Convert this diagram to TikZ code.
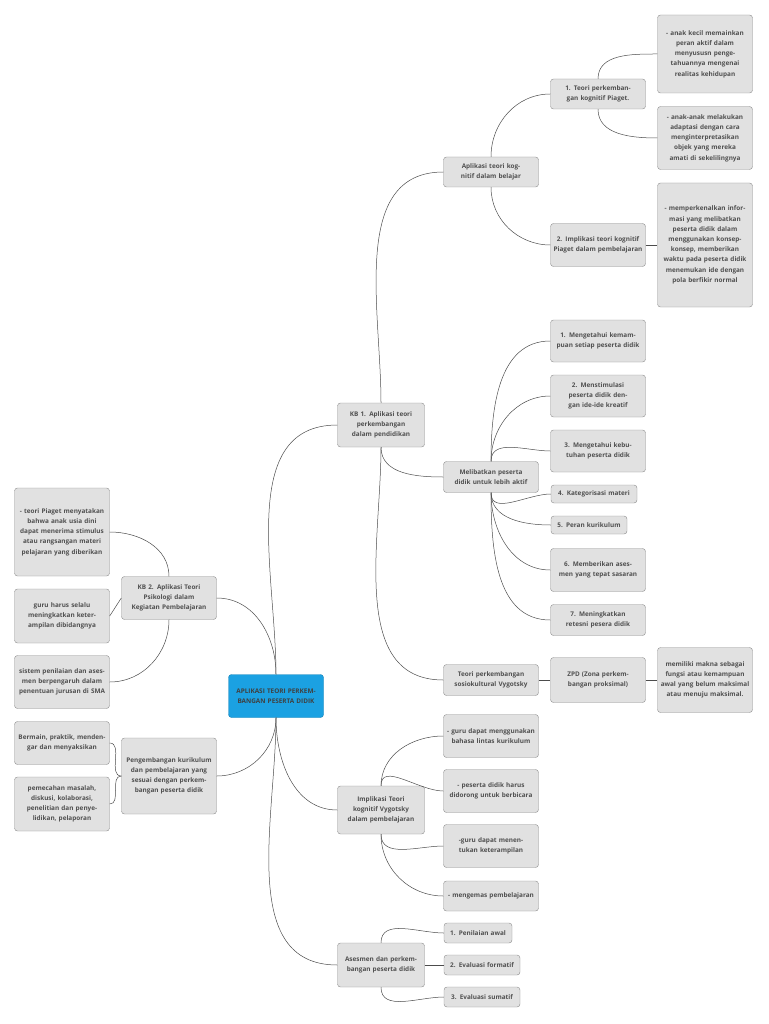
\documentclass[tikz,border=0pt]{standalone}
\usepackage{fontspec}
\setmainfont{Open Sans}
\definecolor{BoxClr}{HTML}{E1E1E1}
\definecolor{EdgeClr}{HTML}{8C8C8C}
\definecolor{TxtClr}{HTML}{505050}
\definecolor{RootClr}{HTML}{1BA1E2}

\begin{document}
\begin{tikzpicture}[x=1pt,y=-1pt,
  box/.style={draw=EdgeClr,fill=BoxClr,rounded corners=3pt,align=center,
    text=TxtClr,font=\fontsize{6.4}{10.2}\selectfont\bfseries,inner sep=2pt,
    text width=#1-6pt,minimum width=#1},
  box/.default=95pt,
  rootbox/.style={box,fill=RootClr,draw=RootClr!80!black,text=TxtClr!80!black,minimum height=43pt},
  link/.style={draw=black!70,line width=0.5pt}]
\useasboundingbox (0,0) rectangle (768,1024);

% center
\node[rootbox] (root) at (276,696) {APLIKASI TEORI PERKEMBANGAN PESERTA DIDIK};

% right side
\node[box=87pt,minimum height=44pt] (kb1) at (381,425) {KB 1. Aplikasi teori perkembangan dalam pendidikan};
\node[box,minimum height=30pt] (kog) at (491,172) {Aplikasi teori kognitif dalam belajar};
\node[box,minimum height=30pt] (piaget) at (598,94) {1. Teori perkembangan kognitif Piaget.};
\node[box,minimum height=78pt] (pa) at (705,54) {- anak kecil memainkan peran aktif dalam menyususn pengetahuannya mengenai realitas kehidupan};
\node[box,minimum height=63pt] (pb) at (705,138) {- anak-anak melakukan adaptasi dengan cara menginterpretasikan objek yang mereka amati di sekelilingnya};
\node[box,minimum height=43pt] (impl) at (598,245) {2. Implikasi teori kognitif Piaget dalam pembelajaran};
\node[box,minimum height=124pt] (ia) at (705,245) {- memperkenalkan informasi yang melibatkan peserta didik dalam menggunakan konsep-konsep, memberikan waktu pada peserta didik menemukan ide dengan pola berfikir normal};

\node[box,minimum height=31pt] (aktif) at (491,477) {Melibatkan peserta didik untuk lebih aktif};
\node[box,minimum height=42pt] (m1) at (598,341) {1. Mengetahui kemampuan setiap peserta didik};
\node[box,minimum height=42pt] (m2) at (598,396) {2. Menstimulasi peserta didik dengan ide-ide kreatif};
\node[box,minimum height=42pt] (m3) at (598,451) {3. Mengetahui kebutuhan peserta didik};
\node[box=86pt,minimum height=18pt] (m4) at (594,494) {4. Kategorisasi materi};
\node[box=76pt,minimum height=18pt] (m5) at (589,525) {5. Peran kurikulum};
\node[box,minimum height=43pt] (m6) at (598,570) {6. Memberikan asesmen yang tepat sasaran};
\node[box,minimum height=31pt] (m7) at (598,620) {7. Meningkatkan retesni pesera didik};

\node[box,minimum height=31pt] (vyg) at (491,680) {Teori perkembangan sosiokultural Vygotsky};
\node[box,minimum height=45pt] (zpd) at (598,680) {ZPD (Zona perkembangan proksimal)};
\node[box,minimum height=65pt] (za) at (705,680) {memiliki makna sebagai fungsi atau kemampuan awal yang belum maksimal atau menuju maksimal.};

\node[box=87pt,minimum height=48pt] (impv) at (381,810) {Implikasi Teori kognitif Vygotsky dalam pembelajaran};
\node[box,minimum height=43pt] (v1) at (491,736) {- guru dapat menggunakan bahasa lintas kurikulum};
\node[box,minimum height=43pt] (v2) at (491,791) {- peserta didik harus didorong untuk berbicara};
\node[box,minimum height=43pt] (v3) at (491,846) {-guru dapat menentukan keterampilan};
\node[box,minimum height=30pt] (v4) at (491,896) {- mengemas pembelajaran};

\node[box=87pt,minimum height=44pt] (ases) at (381,965) {Asesmen dan perkembangan peserta didik};
\node[box=68pt,minimum height=20pt] (a1) at (478,933) {1. Penilaian awal};
\node[box=76pt,minimum height=20pt] (a2) at (482,965) {2. Evaluasi formatif};
\node[box=76pt,minimum height=20pt] (a3) at (482,997) {3. Evaluasi sumatif};

% left side
\node[box,minimum height=43pt] (kb2) at (169,598) {KB 2. Aplikasi Teori Psikologi dalam Kegiatan Pembelajaran};
\node[box,minimum height=88pt] (la) at (62,532) {- teori Piaget menyatakan bahwa anak usia dini dapat menerima stimulus atau rangsangan materi pelajaran yang diberikan};
\node[box,minimum height=54pt] (lb) at (62,616) {guru harus selalu meningkatkan keterampilan dibidangnya};
\node[box,minimum height=53pt] (lc) at (62,682) {sistem penilaian dan asesmen berpengaruh dalam penentuan jurusan di SMA};
\node[box,minimum height=76pt] (kur) at (169,776) {Pengembangan kurikulum dan pembelajaran yang sesuai dengan perkembangan peserta didik};
\node[box,minimum height=43pt] (ld) at (62,743) {Bermain, praktik, mendengar dan menyaksikan};
\node[box,minimum height=54pt] (le) at (62,804) {pemecahan masalah, diskusi, kolaborasi, penelitian dan penyelidikan, pelaporan};

% connectors
\draw[link] (root.north) to[out=90,in=180] (kb1.west);
\draw[link] (root.north) to[out=90,in=0] (kb2.east);
\draw[link] (root.south) to[out=-90,in=0] (kur.east);
\draw[link] (root.south) to[out=-90,in=180] (impv.west);
\draw[link] (root.south) to[out=-90,in=180] (ases.west);

\draw[link] (kb1.north) to[out=90,in=180] (kog.west);
\draw[link] (kb1.south) to[out=-90,in=180] (aktif.west);
\draw[link] (kb1.south) to[out=-90,in=180] (vyg.west);

\draw[link] (kog.north) to[out=90,in=180] (piaget.west);
\draw[link] (kog.south) to[out=-90,in=180] (impl.west);
\draw[link] (piaget.north) to[out=90,in=180] (pa.west);
\draw[link] (piaget.south) to[out=-90,in=180] (pb.west);
\draw[link] (impl.east) -- (ia.west);

\foreach \m in {m1,m2,m3} \draw[link] (aktif.north) to[out=90,in=180] (\m.west);
\foreach \m in {m4,m5,m6,m7} \draw[link] (aktif.south) to[out=-90,in=180] (\m.west);

\draw[link] (vyg.east) -- (zpd.west);
\draw[link] (zpd.east) -- (za.west);

\foreach \m in {v1,v2} \draw[link] (impv.north) to[out=90,in=180] (\m.west);
\foreach \m in {v3,v4} \draw[link] (impv.south) to[out=-90,in=180] (\m.west);

\draw[link] (ases.north) to[out=90,in=180] (a1.west);
\draw[link] (ases.east) -- (a2.west);
\draw[link] (ases.south) to[out=-90,in=180] (a3.west);

\draw[link] (kb2.north) to[out=90,in=0] (la.east);
\draw[link] (kb2.west) -- (lb.east);
\draw[link] (kb2.south) to[out=-90,in=0] (lc.east);
\draw[link] (kur.west) to[out=180,in=0] (ld.east);
\draw[link] (kur.west) to[out=180,in=0] (le.east);
\end{tikzpicture}
\end{document}
